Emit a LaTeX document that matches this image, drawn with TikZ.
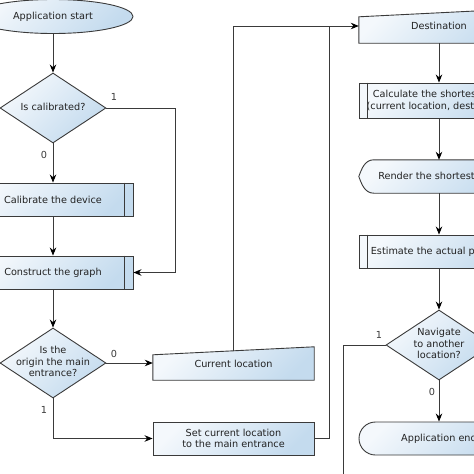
\documentclass[tikz,border=0pt]{standalone}
\usepackage{fontspec}
\setmainfont{DejaVu Sans}
\usetikzlibrary{shapes.geometric,arrows.meta,backgrounds}
\definecolor{fb}{HTML}{C4DBEE}
\definecolor{fw}{HTML}{F4F8FC}
\definecolor{ln}{HTML}{3A3A3A}
\definecolor{tx}{HTML}{222222}
\newcommand{\dtxt}[1]{\makebox[0pt]{\begin{tabular}{@{}c@{}}#1\end{tabular}}}
\begin{document}
\begin{tikzpicture}[x=1pt,y=-1pt,
  font=\fontsize{9.7}{11.5}\selectfont, text=tx,
  sh/.style={draw=ln, line width=0.9pt, top color=fw, bottom color=fb, shading angle=45},
  box/.style={sh, minimum width=160pt, minimum height=33pt, inner sep=0pt, align=center},
  plain/.style={minimum width=160pt, minimum height=33pt, inner sep=0pt, align=center},
  dec/.style={sh, shape=diamond, minimum width=106pt, minimum height=70pt, inner sep=0pt, aspect=1.5},
  lbl/.style={text=ln, inner sep=0pt},
  arr/.style={draw=ln, line width=0.9pt, -{Stealth[length=8pt,width=6.5pt,color=black]}},
  con/.style={draw=ln, line width=0.9pt}]
\useasboundingbox (0,0) rectangle (474,474);
\clip (0,0) rectangle (474,474);
% left column
\node[sh, ellipse, minimum width=160pt, minimum height=34pt, inner sep=0pt] (start) at (53,16.5) {Application start};
\node[dec] (cal) at (53,108) {\dtxt{Is calibrated?}};
\node[box] (calib) at (53,199.5) {Calibrate the device};
\draw[con] ([xshift=-9pt]calib.north east) -- ([xshift=-9pt]calib.south east);
\node[box] (graph) at (53,272.5) {Construct the graph};
\draw[con] ([xshift=-9pt]graph.north east) -- ([xshift=-9pt]graph.south east);
\node[dec] (orig) at (53,363) {\dtxt{Is the\\origin the main\\entrance?}};
% middle column
\node[plain, minimum width=161pt] (cur) at (233.5,363.5) {Current location};
\node[box, minimum width=161pt] (set) at (233.5,438.5) {Set current location\\to the main entrance};
% right column
\node[plain, minimum height=34pt] (dest) at (439,26) {Destination};
\node[box, minimum height=35pt] (calc) at (439,100.5) {Calculate the shortest path\\(current location, destination)};
\draw[con] ([xshift=9pt]calc.north west) -- ([xshift=9pt]calc.south west);
\draw[con] ([xshift=-9pt]calc.north east) -- ([xshift=-9pt]calc.south east);
\node[plain] (rend) at (439,176.5) {Render the shortest path};
\node[box] (est) at (439,251.5) {Estimate the actual position};
\draw[con] ([xshift=9pt]est.north west) -- ([xshift=9pt]est.south west);
\draw[con] ([xshift=-9pt]est.north east) -- ([xshift=-9pt]est.south east);
\node[dec] (nav) at (439,345) {\dtxt{Navigate\\to another\\location?}};
\node[box, rounded corners=16.5pt] (end) at (439,438.5) {Application end};
% custom outlines
\begin{scope}[on background layer]
\path[sh] (cur.south west) -- (cur.south east) -- (cur.north east) -- ([yshift=-8pt]cur.north west) -- cycle;
\path[sh] (dest.south west) -- (dest.south east) -- (dest.north east) -- ([yshift=-8pt]dest.north west) -- cycle;
\path[sh] ([xshift=15pt]rend.north west) -- ([xshift=-15pt]rend.north east)
  to[out=0,in=0] ([xshift=-15pt]rend.south east) -- ([xshift=15pt]rend.south west)
  to[out=180,in=-70] (rend.west) to[out=70,in=180] ([xshift=15pt]rend.north west) -- cycle;
\end{scope}
% labels
\node[lbl] (l1) at (114,97) {1};
\node[lbl] (l2) at (44,155) {0};
\node[lbl] (l3) at (114,354) {0};
\node[lbl] (l4) at (44,410) {1};
\node[lbl] (l5) at (379,335) {1};
\node[lbl] (l6) at (432,392) {0};
% connectors
\draw[arr] (start) -- (cal);
\draw[arr] (cal) -- (calib);
\draw[arr] (cal.east) -- ++(69,0) |- (graph.east);
\draw[arr] (calib) -- (graph);
\draw[arr] (graph) -- (orig);
\draw[arr] (orig.east) -- (orig.east -| cur.west);
\draw[arr] (orig.south) |- (set.west);
\draw[arr] ([yshift=-4pt]cur.north) |- (dest.west);
\draw[con] (set.east) -| ([xshift=-29pt]dest.west);
\draw[arr] (dest) -- (calc);
\draw[arr] (calc) -- (rend);
\draw[arr] (rend) -- (est);
\draw[arr] (est) -- (nav);
\draw[arr] (nav) -- (end);
\coordinate (navout) at (343,480);
\draw[con] (nav.west) -| (navout);
\end{tikzpicture}
\end{document}
